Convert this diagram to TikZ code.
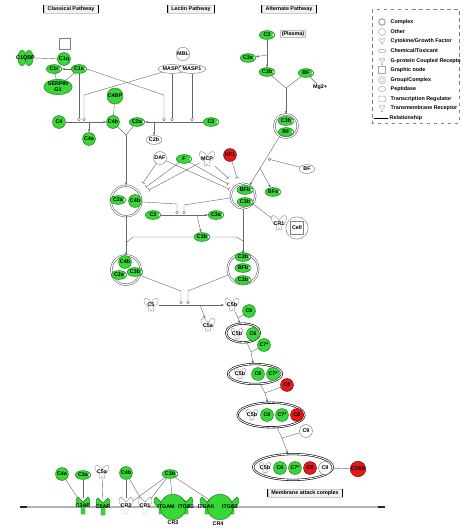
\documentclass[tikz,border=0pt]{standalone}
\usepackage{fontspec}
\setmainfont{Liberation Sans}
\usetikzlibrary{arrows.meta,shapes.geometric}
\definecolor{pgreen}{RGB}{55,215,55}
\definecolor{pgreenD}{RGB}{25,125,25}
\definecolor{pred}{RGB}{230,25,25}
\definecolor{pline}{RGB}{105,105,105}
\tikzset{
  every node/.style={font=\bfseries\fontsize{4.6}{5}\selectfont, inner sep=0.4pt},
  gc/.style={circle, draw=pgreenD, fill=pgreen, minimum size=11pt},
  rc/.style={circle, draw=red!50!black, fill=pred, minimum size=11pt},
  wc/.style={circle, draw=gray, fill=white, minimum size=11pt},
  gp/.style={ellipse, draw=pgreenD, fill=pgreen, minimum width=13pt, minimum height=7.5pt,
    path picture={\fill[white] ([xshift=-0.3pt]path picture bounding box.east) circle (1.6pt);}},
  wp/.style={ellipse, draw=gray, fill=white, minimum width=13pt, minimum height=7.5pt},
  cx/.style={circle, draw=gray!60!black, double=white, double distance=1pt, line width=0.4pt},
  mx/.style={ellipse, draw=black, double=white, double distance=0.8pt, line width=0.5pt},
  hdr/.style={fill=gray!10, draw=gray!40, inner xsep=3pt, inner ysep=1.2pt,
    append after command={(\tikzlastnode.north west) edge[line width=1pt] (\tikzlastnode.south west)
      (\tikzlastnode.north east) edge[line width=1pt] (\tikzlastnode.south east)}},
  cy/.style={minimum width=13pt, minimum height=12pt},
  rp/.style={minimum width=12pt, minimum height=13pt},
  wsh/.style={draw=gray!80, fill=white, line width=0.35pt},
  gsh/.style={draw=pgreenD, fill=pgreen, line width=0.35pt},
  ln/.style={draw=pline, line width=0.35pt},
  act/.style={ln, -{Latex[length=2.4pt,width=2pt]}},
  inh/.style={ln, -{Bar[width=3.5pt]}},
  cat/.style={ln, -{Circle[open,length=2.6pt]}},
  cyto/.pic={\path[pic actions] (0,-2) .. controls (-3,-10) and (-10,-9) .. (-7,-2)
    .. controls (-6,1) and (-4,2) .. (-2,2) .. controls (-5,7) and (-1,9) .. (0,5)
    .. controls (1,9) and (5,7) .. (2,2) .. controls (4,2) and (6,1) .. (7,-2)
    .. controls (10,-9) and (3,-10) .. (0,-2) -- cycle;},
  recep/.pic={\path[pic actions] (-2,9) -- (-2,2) .. controls (-8,1) and (-8,-7) .. (-5,-8)
    .. controls (-3,-6) and (-1,-4) .. (0,-3) .. controls (1,-4) and (3,-6) .. (5,-8)
    .. controls (8,-7) and (8,1) .. (2,2) -- (2,9) -- cycle;}
}
\begin{document}
\begin{tikzpicture}[x=0.03cm,y=-0.03cm]
  \path[use as bounding box, fill=white] (0,0) rectangle (474,531);

  \node (hcl) at (71,9) [hdr] {Classical Pathway};
  \node (hle) at (191,9) [hdr] {Lectin Pathway};
  \node (hal) at (289,9) [hdr] {Alternate Pathway};
  \node (hmac) at (305,493) [hdr] {Membrane attack complex};

  \draw[gray, dashed, line width=0.4pt] (372,9) rectangle (459,123);
  \node (lgi1) at (382,22) [circle, draw=gray!70, line width=0.9pt, minimum size=5.5pt] {};
  \node (lgi2) at (382,32) [circle, draw=gray!70, minimum size=6pt] {};
  \pic[draw=gray!70, line width=0.3pt, scale=0.4] at (382,41) {cyto};
  \node (lgi4) at (382,51) [rectangle, rounded corners=0.8pt, draw=gray!70, minimum width=6pt, minimum height=2.5pt] {};
  \pic[draw=gray!70, line width=0.3pt, scale=0.4] at (382,61) {recep};
  \node (lgi6) at (382,70) [rectangle, draw=gray!70, minimum size=6pt] {};
  \node (lgi7) at (382,80) [circle, draw=gray!70, double=white, double distance=0.6pt, minimum size=5pt] {};
  \node (lgi8) at (382,89) [ellipse, draw=gray!70, minimum width=6pt, minimum height=4.5pt] {};
  \node (lgi9) at (382,99) [rectangle, rounded corners=1pt, draw=gray!70, minimum width=6pt, minimum height=5pt] {};
  \pic[draw=gray!70, line width=0.3pt, scale=0.4] at (382,108) {recep};
  \draw[line width=0.5pt] (374,118) -- (388,118);
  \foreach \y/\t in {22/Complex, 32/Other, 41/{Cytokine/Growth Factor}, 51/{Chemical/Toxicant},
      61/{G-protein Coupled Recepto}, 70/{Graphic node}, 80/{Group/Complex}, 89/Peptidase,
      99/{Transcription Regulator}, 108/{Transmembrane Receptor}}
    \node[anchor=west] at (390,\y) {\t};
  \node (lgrel) at (389,118) [anchor=west] {Relationship};

  \node (sq) at (65,44) [rectangle, draw=gray, minimum size=9.5pt] {};
  \node (qbA) at (22,58) [ellipse, draw=pgreenD, fill=pgreen, minimum width=7pt, minimum height=13pt] {};
  \node (qbB) at (29,58) [ellipse, draw=pgreenD, fill=pgreen, minimum width=7pt, minimum height=13pt] {};
  \node (c1qbp) at (25.5,58) {C1QBP};
  \node (c1q) at (64,59) [gc] {C1q};
  \node (c1r) at (54,69) [gp] {C1r};
  \node (c1s) at (79,69) [gp] {C1s};
  \node (serp) at (58,87) [ellipse, draw=pgreenD, fill=pgreen, minimum width=24pt, minimum height=13pt, align=center, inner sep=0pt] {SERPIN\\G1};
  \node (mbl) at (183,54) [wc] {MBL};
  \node (masp2) at (172,69) [wp] {MASP2};
  \node (masp1) at (192,69) [wp] {MASP1};
  \node (c4bp) at (115,96) [gc] {C4BP};
  \node (c4) at (59,122) [gc] {C4};
  \node (c4b) at (113,122) [gc] {C4b};
  \node (c4a) at (89,139) [gc] {C4a};
  \node (c2a) at (137,122) [gp] {C2a};
  \node (c2) at (211,122) [gp] {C2};
  \node (c2b) at (154,140) [wp] {C2b};

  \coordinate (j4a) at (89,122);
  \coordinate (j2b) at (154,122);
  \coordinate (b1) at (164,95);
  \coordinate (b2) at (84,95);
  \coordinate (m1) at (79,121);
  \coordinate (m2) at (84,121);
  \coordinate (m3) at (164,121);
  \coordinate (m4) at (172,121);
  \coordinate (m5) at (192,121);
  \draw[inh] (qbB.east) -- (c1q);
  \draw[act] (c1s) -- (c1r);
  \draw[inh] (serp) -- (c1r);
  \draw[inh] (serp) -- (c1s);
  \draw[inh] (c4bp) -- (c4b);
  \draw[act] (c4) -- (c4b);
  \draw[act] (j4a) -- (c4a);
  \draw[act] (c2) -- (c2a);
  \draw[act] (j2b) -- (c2b);
  \draw[cat] (c1s) -- (m1);
  \draw[cat] (c1s.east) -- (b1) -- (m3);
  \draw[cat] (masp2.south west) -- (b2) -- (m2);
  \draw[cat] (masp2) -- (m4);
  \draw[cat] (masp1) -- (m5);

  \node (cvA) at (126,201) [cx, minimum size=26pt] {};
  \node (cvA1) at (118,200) [gp] {C2a};
  \node (cvA2) at (135,201) [gc] {C4b};
  \coordinate (yA) at (126,135);
  \draw[ln] (c4b) -- (yA);
  \draw[ln] (c2a) -- (yA);
  \draw[act] (yA) -- (cvA);

  \node (daf) at (160,158) [wc] {DAF};
  \node (fh) at (184,159) [gp] {F};
  \pic[wsh] at (207,159) {cyto};
  \node (mcp) at (207,159) [cy] {MCP};
  \node (hf1) at (230,155) [rc] {HF1};

  \node (c3p) at (267,35) [gp] {C3};
  \node (plasma) at (293,34) [fill=gray!10, draw=gray!50, inner sep=1pt] {(Plasma)};
  \node (c3ap) at (248,58) [gp] {C3a};
  \node (c3bp) at (267,72) [gp] {C3b};
  \node (bf) at (306,73) [gp] {BF};
  \node (mg) at (320,87) {Mg2+};
  \coordinate (j3a) at (267,55);
  \coordinate (yB) at (286,88);
  \draw[act] (c3p) -- (c3bp);
  \draw[act] (j3a) -- (c3ap);
  \draw[ln] (bf) -- (mg);
  \draw[ln] (c3bp) -- (yB);
  \draw[ln] (bf) -- (yB);
  \node (cvP) at (286,126) [cx, minimum size=20pt] {};
  \node (cvP1) at (286,121) [gp] {C3b};
  \node (cvP2) at (286,132) [gp] {BF};
  \draw[act] (yB) -- (cvP);

  \node (cvB) at (243,196) [cx, minimum size=21pt] {};
  \node (cvB1) at (245,190) [gp] {BFb};
  \node (cvB2) at (245,202) [gp] {C3b};
  \node (bfw) at (307,169) [wp] {BF};
  \node (bfa) at (273,192) [gp] {BFa};
  \coordinate (mB) at (268,159);
  \coordinate (jBa) at (260,168);
  \draw[act] (cvP) -- (cvB);
  \draw[cat] (bfw) -- (mB);
  \draw[act] (jBa) -- (bfa);

  \pic[wsh] at (279,223) {cyto};
  \node (cr1c) at (279,224) [cy] {CR1};
  \node (cell) at (297,228) [circle, draw=gray, fill=white, minimum size=19pt] {};
  \node (cellsq) at (297,228) [rectangle, draw=gray, minimum size=11pt] {Cell};
  \draw[inh] (cr1c) -- (cvB);

  \coordinate (iA1) at (143,183);
  \coordinate (iA2) at (146,187);
  \coordinate (iA3) at (149,190);
  \coordinate (iB1) at (228,178);
  \coordinate (iB2) at (228,184);
  \coordinate (iB3) at (229,189);
  \coordinate (iB4) at (237,178);
  \draw[inh] (daf) -- (iA1);
  \draw[inh] (fh) -- (iA2);
  \draw[inh] (mcp) -- (iA3);
  \draw[inh] (daf) -- (iB3);
  \draw[inh] (fh) -- (iB2);
  \draw[inh] (mcp) -- (iB1);
  \draw[inh] (hf1) -- (iB4);

  \node (c3) at (153,215) [gp] {C3};
  \node (c3a) at (216,215) [gp] {C3a};
  \node (c3b) at (202,237) [gp] {C3b};
  \coordinate (j3b) at (197,215);
  \coordinate (t6) at (177,204);
  \coordinate (t7) at (184,205);
  \coordinate (m6) at (177,214);
  \coordinate (m7) at (184,214);
  \draw[act] (c3) -- (c3a);
  \draw[act] (j3b) -- (c3b);
  \draw[cat] (cvA) -- (t6) -- (m6);
  \draw[cat] (cvB) -- (t7) -- (m7);

  \node (cvC) at (126,270) [cx, minimum size=25pt] {};
  \node (cvC1) at (125,262) [gc] {C4b};
  \node (cvC2) at (119,275) [gp] {C2a};
  \node (cvC3) at (135,272) [gp] {C3b};
  \node (cvD) at (243,269) [cx, minimum size=26pt] {};
  \node (cvD1) at (243,257) [gp] {C3b};
  \node (cvD2) at (243,268) [gp] {BFb};
  \node (cvD3) at (243,280) [gp] {C3b};
  \coordinate (l1) at (133,237);
  \coordinate (l2) at (126,243);
  \coordinate (r1) at (236,237);
  \coordinate (r2) at (243,241);
  \draw[ln] (c3b) -- (l1) -- (l2);
  \draw[ln] (c3b) -- (r1) -- (r2);
  \draw[act] (cvA) -- (cvC);
  \draw[act] (cvB) -- (cvD);

  \pic[wsh, scale=0.9] at (151,305) {cyto};
  \node (c5) at (151,305) [cy] {C5};
  \pic[wsh, scale=0.9] at (232,305) {cyto};
  \node (c5b) at (232,305) [cy] {C5b};
  \pic[wsh, scale=0.9] at (208,325) {cyto};
  \node (c5a) at (208,326) [cy] {C5a};
  \coordinate (j5a) at (200,305);
  \coordinate (t8) at (181,291);
  \coordinate (t9) at (188,291);
  \coordinate (m8) at (181,304);
  \coordinate (m9) at (188,304);
  \draw[act] (c5) -- (c5b);
  \draw[act] (j5a) -- (c5a);
  \draw[cat] (cvC) -- (t8) -- (m8);
  \draw[cat] (cvD) -- (t9) -- (m9);

  \node (c6) at (249,311) [gc] {C6};
  \node (cvE) at (243,333) [mx, minimum width=29pt, minimum height=16pt] {};
  \pic[wsh, scale=0.75] at (237,334) {cyto};
  \node (cvE1) at (237,334) {C5b};
  \node (cvE2) at (253,334) [gc] {C6};
  \coordinate (y5) at (238,318);
  \draw[ln] (c5b) -- (y5);
  \draw[ln] (c6) -- (y5);
  \draw[act] (y5) -- (cvE);

  \node (c7) at (264,345) [gc] {C7*};
  \node (cvF) at (255,374) [mx, minimum width=46pt, minimum height=17pt] {};
  \pic[wsh, scale=0.75] at (240,374) {cyto};
  \node (cvF1) at (240,374) {C5b};
  \node (cvF2) at (258,374) [gc] {C6};
  \node (cvF3) at (273,374) [gc] {C7*};
  \coordinate (y6) at (251,352);
  \draw[ln] (cvE) -- (y6);
  \draw[ln] (c7) -- (y6);
  \draw[act] (y6) -- (cvF);

  \node (c8) at (287,385) [rc] {C8};
  \node (cvG) at (271,415) [mx, minimum width=57pt, minimum height=21pt] {};
  \pic[wsh, scale=0.75] at (252,415) {cyto};
  \node (cvG1) at (252,415) {C5b};
  \node (cvG2) at (267,415) [gc] {C6};
  \node (cvG3) at (282,415) [gc] {C7*};
  \node (cvG4) at (297,415) [rc] {C8};
  \coordinate (y7) at (265,393);
  \draw[ln] (cvF) -- (y7);
  \draw[ln] (c8) -- (y7);
  \draw[act] (y7) -- (cvG);

  \node (c9) at (306,431) [wc] {C9};
  \node (mac) at (293,467) [mx, minimum width=68pt, minimum height=22pt] {};
  \pic[wsh, scale=0.75] at (265,468) {cyto};
  \node (mac1) at (265,468) {C5b};
  \node (mac2) at (280,468) [gc] {C6};
  \node (mac3) at (295,468) [gc] {C7*};
  \node (mac4) at (310,468) [rc] {C8};
  \node (mac5) at (325,468) [wc] {C9};
  \node (cd59) at (358,469) [rc] {CD59};
  \coordinate (y8) at (282,438);
  \draw[ln] (cvG) -- (y8);
  \draw[ln] (c9) -- (y8);
  \draw[act] (y8) -- (mac);
  \draw[inh] (cd59) -- (mac);

  \draw[gray!60, line width=1.2pt] (20,507) -- (385,507);
  \draw[gray!30!black, line width=1.3pt] (20,507) -- (27,507) (378,507) -- (385,507);

  \node (bc4a) at (62,474) [gc] {C4a};
  \node (bc3a) at (83,475) [gp] {C3a};
  \pic[wsh, scale=0.9] at (102,472) {cyto};
  \node (bc5a) at (102,472) [cy] {C5a};
  \node (bc4b) at (126,473) [gc] {C4b};
  \node (bc3b) at (170,474) [gp] {C3b};

  \pic[gsh] at (83,505) {recep};
  \node (c3ar) at (83,506) [rp] {C3AR};
  \pic[gsh] at (103,506) {recep};
  \node (c5ar) at (103,507) [rp] {C5AR};
  \pic[wsh] at (126,505) {recep};
  \node (cr2) at (126,506) [rp] {CR2};
  \pic[wsh] at (145,505) {recep};
  \node (cr1) at (145,506) [rp] {CR1};
  \pic[gsh] at (161,505) {recep};
  \pic[gsh] at (186,505) {recep};
  \node (cr3) at (173,507) [gc, minimum size=22pt] {};
  \node (itgam) at (166,507) {ITGAM};
  \node (itgb2a) at (186,507) {ITGB2};
  \node (cr3l) at (173,523) {CR3};
  \pic[gsh] at (207,505) {recep};
  \pic[gsh] at (232,505) {recep};
  \node (cr4) at (220,507) [gc, minimum size=22pt] {};
  \node (itgax) at (206,507) {ITGAX};
  \node (itgb2b) at (230,507) {ITGB2};
  \node (cr4l) at (218,524) {CR4};
  \draw[ln] (bc4a) -- (c3ar);
  \draw[ln] (bc3a) -- (c3ar);
  \draw[ln] (bc5a) -- (c5ar);
  \draw[ln] (bc4b) -- (cr2);
  \draw[ln] (bc4b) -- (cr1);
  \draw[ln] (bc3b) -- (cr2);
  \draw[ln] (bc3b) -- (cr1);
  \draw[ln] (bc3b) -- (cr3);
  \draw[ln] (bc3b) -- (cr4);
\end{tikzpicture}
\end{document}
